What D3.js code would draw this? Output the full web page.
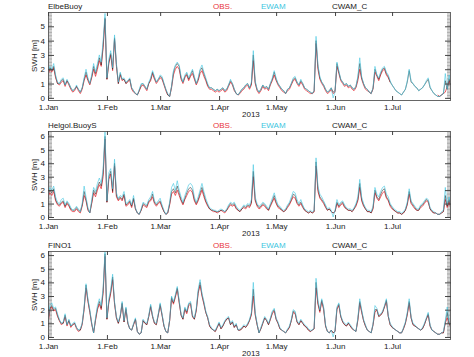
<!DOCTYPE html>
<html><head><meta charset="utf-8">
<script src="https://cdn.jsdelivr.net/npm/d3@7"></script>
<style>body{margin:0;background:#fff}svg{display:block;font-family:"Liberation Sans",Arial,sans-serif}</style>
</head><body><svg id="c" width="474" height="357"></svg>
<script>
const startDate = "2013-01-01";
const endDate = "2013-08-01";
const monthTicks = ["2013-01-01","2013-02-01","2013-03-01","2013-04-01","2013-05-01","2013-06-01","2013-07-01"];
const monthLabels = ["1.Jan","1.Feb","1.Mar","1.Apr","1.May","1.Jun","1.Jul"];
const yearLabel = "2013";
const stations = ["ElbeBuoy","Helgol.BuoyS","FINO1"];
const seriesNames = ["OBS.","EWAM","CWAM_C"];
const yMaxs = [6.0, 6.4, 6.3];
const yTickSets = [[0,1,2,3,4,5],[0,1,2,3,4,5,6],[0,1,2,3,4,5,6]];
const N = null;

// daily values, Jan 1 .. Aug 1 2013
const elbeObs = [1.6,2.0,1.8,2.1,1.4,1.0,0.9,1.1,1.2,0.8, 1.2,0.9,0.6,0.4,0.5,0.8,0.5,0.3,0.6,1.2,
 1.6,1.2,0.9,1.4,2.0,1.5,2.0,2.6,2.2,3.5, 5.5,1.3,2.4,3.0,1.9,4.1,2.2,1.0,1.6,1.2,
 1.3,1.0,1.1,1.3,0.6,0.4,0.3,0.2,0.5,0.8, 0.9,0.7,0.5,1.0,1.2,1.7,1.3,1.0,1.2,1.4,
 1.3,0.9,0.5,0.2,0.1,0.7,1.6,2.0,2.2,2.0, 1.3,1.0,1.4,1.6,1.2,1.5,1.7,1.3,0.9,1.2,
 1.7,1.9,1.5,1.2,0.8,0.6,0.6,0.5,0.4,0.5, 0.4,0.5,0.6,0.4,0.5,0.8,1.1,0.9,0.5,0.3,
 0.2,0.3,0.5,0.6,0.8,0.9,0.6,0.9,2.6,1.0, 0.5,0.3,0.5,0.8,0.6,0.7,0.5,0.9,1.2,1.6,
 1.2,0.9,0.7,0.5,0.4,0.3,0.5,0.6,0.9,1.2, 1.3,1.0,0.8,1.1,0.9,0.6,0.5,0.4,0.3,0.3,
 0.4,3.8,2.0,1.3,1.0,0.8,0.5,0.3,0.4,0.6, 0.3,0.4,2.2,1.7,1.2,1.0,0.8,0.9,0.7,0.8,
 0.6,0.5,0.7,1.2,2.0,1.3,0.9,0.6,0.5,0.4, 0.3,0.6,1.8,1.5,1.2,1.6,1.9,2.0,1.6,1.4,
 1.1,N,N,N,N,N,N,N,N,N, N,N,N,N,N,N,N,N,N,N,
 N,N,N,N,N,0.2,0.1,0.2,0.3,0.4, 0.8,1.2,0.8];
const elbeEwam = [1.8,2.2,2.0,2.4,1.6,1.1,1.0,1.3,1.4,0.9, 1.3,1.0,0.7,0.5,0.6,0.9,0.6,0.4,0.7,1.4,
 2.0,1.4,1.0,1.6,2.4,1.8,2.4,3.0,2.5,4.0, 5.9,1.4,2.7,3.3,2.1,4.4,2.4,1.1,1.8,1.3,
 1.4,1.1,1.2,1.4,0.7,0.5,0.3,0.2,0.6,1.0, 1.0,0.8,0.6,1.1,1.4,1.9,1.5,1.1,1.3,1.6,
 1.5,1.0,0.6,0.3,0.1,0.8,1.9,2.3,2.5,2.3, 1.5,1.1,1.6,1.8,1.4,1.7,2.0,1.5,1.0,1.4,
 2.0,2.3,1.8,1.4,1.0,0.7,0.7,0.6,0.5,0.6, 0.5,0.6,0.7,0.5,0.6,0.9,1.3,1.0,0.6,0.3,
 0.2,0.4,0.6,0.7,0.9,1.0,0.7,1.1,3.3,1.2, 0.6,0.4,0.6,0.9,0.7,0.8,0.6,1.0,1.4,1.9,
 1.4,1.0,0.8,0.6,0.5,0.3,0.6,0.7,1.0,1.4, 1.5,1.1,0.9,1.3,1.0,0.7,0.6,0.5,0.4,0.3,
 0.5,4.3,2.3,1.5,1.1,0.9,0.6,0.4,0.5,0.7, 0.0,0.4,2.5,1.9,1.3,1.1,0.9,1.0,0.8,0.9,
 0.7,0.6,0.8,1.5,2.8,1.5,1.0,0.7,0.6,0.4, 0.3,0.7,2.2,1.6,1.4,1.8,2.1,2.2,1.8,1.6,
 1.2,0.9,0.7,0.5,0.4,0.3,0.2,0.4,0.6,1.2, 2.0,1.2,1.0,0.8,0.7,0.5,0.6,0.7,0.9,1.2,
 1.4,0.8,0.5,0.3,0.2,0.1,0.1,0.2,0.3,1.7, 0.6,1.6,0.9];
const elbeCwam = [1.7,2.1,1.9,2.2,1.5,1.0,1.0,1.2,1.3,0.9, 1.2,1.0,0.7,0.5,0.6,0.8,0.6,0.4,0.7,1.3,
 1.8,1.3,1.0,1.5,2.2,1.7,2.2,2.8,2.3,3.7, 5.6,1.3,2.5,3.1,2.0,4.2,2.3,1.0,1.7,1.3,
 1.3,1.0,1.2,1.3,0.7,0.5,0.3,0.2,0.5,0.9, 1.0,0.8,0.6,1.0,1.3,1.8,1.4,1.1,1.3,1.5,
 1.4,1.0,0.6,0.2,0.1,0.8,1.8,2.2,2.4,2.2, 1.4,1.1,1.5,1.7,1.3,1.6,1.9,1.4,1.0,1.3,
 1.9,2.1,1.7,1.3,0.9,0.7,0.7,0.6,0.5,0.6, 0.5,0.6,0.7,0.5,0.6,0.9,1.2,1.0,0.6,0.3,
 0.2,0.4,0.6,0.7,0.9,1.0,0.7,1.0,3.0,1.1, 0.6,0.4,0.6,0.9,0.7,0.8,0.6,1.0,1.3,1.8,
 1.3,1.0,0.8,0.6,0.5,0.3,0.6,0.7,1.0,1.3, 1.4,1.1,0.9,1.2,1.0,0.7,0.6,0.5,0.4,0.3,
 0.5,4.0,2.2,1.4,1.1,0.9,0.6,0.4,0.5,0.7, 0.4,0.5,2.4,1.8,1.3,1.1,0.9,1.0,0.8,0.9,
 0.7,0.6,0.8,1.4,2.4,1.4,1.0,0.7,0.6,0.4, 0.3,0.7,2.0,1.6,1.3,1.7,2.0,2.1,1.7,1.5,
 1.1,0.9,0.7,0.5,0.4,0.3,0.2,0.4,0.6,1.1, 1.9,1.1,1.0,0.8,0.7,0.5,0.6,0.7,0.9,1.1,
 1.3,0.7,0.5,0.3,0.2,0.1,0.1,0.2,0.3,1.2, 0.6,1.3,0.8];

const helgObs = [1.5,1.8,1.6,1.9,1.2,0.9,0.8,1.0,1.1,0.7, 1.0,0.8,0.5,0.4,0.4,0.6,0.4,0.3,0.8,1.6,
 1.2,0.5,0.3,1.0,1.8,1.5,2.0,2.4,2.1,3.0, 5.8,1.1,2.8,3.2,1.8,3.8,1.5,1.2,1.4,1.2,
 1.6,0.8,0.9,1.1,0.7,1.3,0.6,0.3,0.2,0.5, 0.9,0.8,0.7,1.1,1.2,1.5,1.0,0.8,1.0,1.1,
 0.7,0.4,0.2,0.3,0.9,1.7,1.9,1.6,2.0,1.6, 1.2,0.9,1.3,1.6,1.9,2.0,1.8,1.2,0.9,1.2,
 1.6,2.0,1.5,1.1,0.8,0.6,0.5,0.4,0.4,0.3, 0.4,0.5,0.4,0.3,0.5,0.7,0.9,0.8,0.9,0.6,
 0.5,0.4,0.6,0.7,0.6,0.8,0.7,1.0,3.0,1.2, 0.8,0.6,0.7,0.9,0.8,0.6,0.5,0.8,1.1,1.4,
 1.0,0.7,0.6,0.5,0.4,0.5,0.7,0.9,1.2,1.5, 1.4,1.0,0.8,1.0,0.7,0.5,0.4,0.3,0.4,0.3,
 0.4,3.8,1.9,1.4,1.2,1.0,0.7,0.5,0.6,0.4, 0.3,0.4,1.0,0.7,0.9,1.0,0.7,0.6,0.5,0.5,
 0.4,0.6,0.8,1.2,2.2,1.2,0.8,0.6,0.4,0.4, 0.3,0.6,1.8,1.4,1.2,1.5,1.8,1.9,1.4,1.2,
 0.8,0.6,0.5,0.4,0.3,0.3,0.2,0.3,0.5,0.9, 1.7,1.0,0.8,0.6,0.5,0.5,0.7,0.8,1.0,1.2,
 1.1,0.6,0.4,0.3,0.3,0.2,0.2,0.3,0.4,1.3, 0.7,1.1,0.6];
const helgEwam = [1.8,2.2,2.0,2.3,1.5,1.1,1.0,1.3,1.4,0.9, 1.2,1.0,0.7,0.5,0.6,0.8,0.6,0.4,1.0,2.3,
 1.5,0.7,0.3,1.3,2.2,1.9,2.5,2.9,2.5,3.6, 6.4,1.2,3.3,3.6,2.1,4.3,1.8,1.4,1.6,1.5,
 1.9,1.0,1.1,1.3,0.9,1.6,0.7,0.3,0.2,0.6, 1.1,1.0,0.9,1.3,1.5,1.9,1.2,1.0,1.2,1.4,
 0.9,0.5,0.2,0.4,1.1,2.2,2.5,2.0,2.7,2.0, 1.5,1.1,1.6,2.0,2.4,2.5,2.3,1.5,1.1,1.5,
 2.0,2.5,1.9,1.4,1.0,0.7,0.6,0.5,0.5,0.4, 0.5,0.6,0.5,0.4,0.6,0.9,1.1,1.0,1.1,0.8,
 0.6,0.5,0.7,0.9,0.8,1.0,0.9,1.3,3.9,1.5, 1.0,0.8,0.9,1.1,1.0,0.8,0.6,1.0,1.4,1.8,
 1.3,0.9,0.8,0.6,0.5,0.6,0.9,1.1,1.5,1.9, 1.8,1.3,1.0,1.3,0.9,0.6,0.5,0.4,0.5,0.4,
 0.5,4.4,2.3,1.7,1.5,1.2,0.9,0.6,0.7,0.5, 0.0,0.5,1.3,0.9,1.1,1.2,0.9,0.7,0.6,0.6,
 0.5,0.7,1.0,1.5,2.8,1.5,1.0,0.7,0.5,0.5, 0.4,0.8,2.2,1.7,1.5,1.9,2.2,2.3,1.7,1.5,
 1.0,0.8,0.6,0.5,0.4,0.4,0.3,0.4,0.6,1.1, 2.1,1.2,1.0,0.8,0.6,0.6,0.9,1.0,1.2,1.4,
 1.3,0.7,0.5,0.4,0.3,0.2,0.2,0.4,0.5,2.2, 0.9,1.5,0.8];
const helgCwam = [1.6,2.0,1.8,2.1,1.3,1.0,0.9,1.1,1.2,0.8, 1.1,0.9,0.6,0.5,0.5,0.7,0.5,0.4,0.9,1.9,
 1.3,0.6,0.3,1.1,2.0,1.7,2.2,2.6,2.3,3.3, 6.0,1.1,3.0,3.4,1.9,4.0,1.6,1.3,1.5,1.3,
 1.7,0.9,1.0,1.2,0.8,1.4,0.6,0.3,0.2,0.5, 1.0,0.9,0.8,1.2,1.3,1.7,1.1,0.9,1.1,1.2,
 0.8,0.4,0.2,0.3,1.0,1.9,2.1,1.8,2.3,1.8, 1.3,1.0,1.4,1.8,2.1,2.2,2.0,1.3,1.0,1.3,
 1.8,2.2,1.7,1.2,0.9,0.6,0.5,0.5,0.4,0.4, 0.4,0.5,0.5,0.4,0.5,0.8,1.0,0.9,1.0,0.7,
 0.5,0.4,0.6,0.8,0.7,0.9,0.8,1.1,3.4,1.3, 0.9,0.7,0.8,1.0,0.9,0.7,0.5,0.9,1.2,1.6,
 1.1,0.8,0.7,0.5,0.4,0.5,0.8,1.0,1.3,1.7, 1.6,1.1,0.9,1.1,0.8,0.5,0.4,0.3,0.4,0.3,
 0.4,4.1,2.1,1.5,1.3,1.1,0.8,0.5,0.6,0.4, 0.3,0.4,1.1,0.8,1.0,1.1,0.8,0.6,0.5,0.5,
 0.4,0.6,0.9,1.3,2.5,1.3,0.9,0.6,0.4,0.4, 0.3,0.7,2.0,1.5,1.3,1.7,2.0,2.1,1.5,1.3,
 0.9,0.7,0.5,0.4,0.3,0.3,0.2,0.3,0.5,1.0, 1.9,1.1,0.9,0.7,0.5,0.5,0.8,0.9,1.1,1.3,
 1.2,0.6,0.4,0.3,0.3,0.2,0.2,0.3,0.4,1.6, 0.8,1.3,0.7];

const finoObs = [1.0,2.0,2.2,1.9,2.0,1.5,1.2,0.9,1.0,1.5, 0.8,1.2,0.7,0.9,1.0,0.6,0.4,0.5,0.9,2.0,
 3.6,2.6,1.8,0.9,0.3,1.2,2.0,2.4,2.0,3.2, 5.9,1.3,2.5,3.2,4.2,2.4,1.4,1.0,1.5,2.4,
 1.1,2.0,1.0,0.6,0.5,0.9,1.3,0.4,0.2,0.3, 1.2,1.0,0.9,1.5,2.2,1.5,1.0,0.9,1.6,2.3,
 1.6,0.8,0.4,0.3,1.2,2.8,2.4,2.9,3.5,2.5, 1.6,1.3,2.0,1.7,2.3,2.4,1.5,1.3,1.9,3.2,
 3.8,3.0,2.4,1.8,1.4,0.8,0.6,0.5,0.4,0.7, 1.0,0.6,0.8,1.1,1.3,1.4,0.9,1.1,0.7,0.9,
 0.5,0.5,0.6,0.8,0.7,0.9,1.2,1.6,3.0,1.6, 0.9,0.3,0.6,1.0,1.4,1.2,0.9,1.3,1.7,1.9,
 1.3,1.0,0.6,0.5,0.4,0.3,0.5,0.7,1.2,1.8, 1.7,1.1,0.9,1.2,1.0,0.8,0.7,0.5,0.4,0.5,
 0.6,3.6,2.4,1.8,2.6,2.0,0.8,0.4,0.3,0.5, 0.3,0.4,2.0,2.3,1.5,1.1,0.9,0.8,1.0,0.8,
 0.6,0.5,0.4,1.2,2.5,1.8,1.2,0.8,0.5,0.4, 0.3,0.9,1.8,2.0,1.5,1.6,1.8,2.2,2.6,1.5,
 0.9,0.7,0.6,0.5,0.4,0.3,0.3,0.6,1.0,1.6, 2.5,1.4,0.9,0.8,0.7,0.6,0.5,0.6,0.9,1.3,
 1.6,0.8,0.5,0.4,0.3,0.2,0.2,0.3,0.3,1.0, 1.4,1.0,0.7];
const finoEwam = [1.2,2.3,2.5,2.1,2.2,1.7,1.3,1.0,1.1,1.7, 0.9,1.3,0.8,1.0,1.1,0.7,0.5,0.6,1.0,2.2,
 3.9,2.8,2.0,1.0,0.3,1.4,2.3,2.8,2.3,3.6, 6.3,1.4,2.8,3.5,4.6,2.6,1.5,1.1,1.6,2.6,
 1.2,2.2,1.1,0.6,0.5,1.0,1.4,0.4,0.2,0.3, 1.3,1.1,1.0,1.6,2.4,1.6,1.1,1.0,1.7,2.5,
 1.7,0.9,0.4,0.3,1.3,3.0,2.6,3.1,3.7,2.7, 1.7,1.4,2.2,1.9,2.5,2.6,1.6,1.4,2.1,3.5,
 4.2,3.2,2.6,1.9,1.5,0.9,0.7,0.5,0.5,0.8, 1.1,0.7,0.9,1.2,1.4,1.5,1.0,1.2,0.8,1.0,
 0.5,0.6,0.7,0.9,0.8,1.0,1.3,1.8,4.0,1.8, 1.0,0.3,0.7,1.1,1.5,1.3,1.0,1.4,1.9,2.1,
 1.4,1.1,0.7,0.5,0.4,0.3,0.6,0.8,1.3,2.0, 1.9,1.2,1.0,1.3,1.1,0.9,0.8,0.6,0.5,0.5,
 0.7,4.3,2.7,2.0,2.8,2.2,0.9,0.4,0.3,0.5, 0.0,0.5,2.2,2.5,1.6,1.2,1.0,0.9,1.1,0.9,
 0.7,0.5,0.4,1.4,2.8,2.0,1.3,0.9,0.5,0.4, 0.3,1.0,2.3,2.1,1.6,1.7,1.9,2.3,2.8,1.6,
 1.0,0.8,0.6,0.5,0.4,0.3,0.3,0.7,1.1,1.8, 2.8,1.5,1.0,0.9,0.7,0.6,0.5,0.7,1.0,1.4,
 1.8,0.9,0.5,0.4,0.3,0.2,0.2,0.3,0.4,1.2, 2.2,1.1,0.8];
const finoCwam = [1.1,2.1,2.3,2.0,2.1,1.6,1.2,1.0,1.0,1.6, 0.9,1.2,0.8,0.9,1.0,0.7,0.5,0.5,1.0,2.1,
 3.8,2.7,1.9,1.0,0.3,1.3,2.1,2.6,2.1,3.4, 6.1,1.3,2.6,3.3,4.4,2.5,1.4,1.0,1.5,2.5,
 1.1,2.1,1.0,0.6,0.5,0.9,1.3,0.4,0.2,0.3, 1.2,1.0,0.9,1.5,2.3,1.5,1.0,0.9,1.6,2.4,
 1.6,0.8,0.4,0.3,1.2,2.9,2.5,3.0,3.6,2.6, 1.6,1.3,2.1,1.8,2.4,2.5,1.5,1.3,2.0,3.3,
 4.0,3.1,2.5,1.8,1.4,0.8,0.6,0.5,0.4,0.7, 1.0,0.6,0.8,1.1,1.3,1.4,0.9,1.1,0.7,0.9,
 0.5,0.5,0.6,0.8,0.7,0.9,1.2,1.7,3.5,1.7, 0.9,0.3,0.6,1.0,1.4,1.2,0.9,1.3,1.8,2.0,
 1.3,1.0,0.6,0.5,0.4,0.3,0.5,0.7,1.2,1.9, 1.8,1.1,0.9,1.2,1.0,0.8,0.7,0.5,0.4,0.5,
 0.6,4.0,2.5,1.9,2.7,2.1,0.8,0.4,0.3,0.5, 0.3,0.4,2.1,2.4,1.5,1.1,0.9,0.8,1.0,0.8,
 0.6,0.5,0.4,1.3,2.6,1.9,1.2,0.8,0.5,0.4, 0.3,0.9,2.0,2.0,1.5,1.6,1.8,2.2,2.7,1.5,
 0.9,0.7,0.6,0.5,0.4,0.3,0.3,0.6,1.0,1.7, 2.6,1.4,0.9,0.8,0.7,0.6,0.5,0.6,0.9,1.3,
 1.7,0.8,0.5,0.4,0.3,0.2,0.2,0.3,0.3,1.1, 1.8,1.0,0.7];

const panelSeries = [[elbeObs, elbeEwam, elbeCwam],[helgObs, helgEwam, helgCwam],[finoObs, finoEwam, finoCwam]];
const colors = ["#e8333c","#3ec6e0","#1a1a1a"];
const drawOrder = [0, 2, 1];
const widths = [0.8, 0.7, 0.6];
const opac = [1, 0.85, 0.85];

const svg = d3.select("#c");
const parse = d3.utcParse("%Y-%m-%d");
const x = d3.scaleUtc().domain([parse(startDate), parse(endDate)]).range([48, 451]);
const panelTops = [12, 131, 251];
const ph = 88;
const fs = 8;

panelTops.forEach((top, p) => {
  const y = d3.scaleLinear().domain([-0.15, yMaxs[p]]).range([top + ph, top]);
  const g = svg.append("g");
  const cid = "clip" + p;
  svg.append("clipPath").attr("id", cid).append("rect")
    .attr("x", 48).attr("y", top).attr("width", 403).attr("height", ph);

  const minor = d3.range(0, Math.floor(yMaxs[p] * 10) + 1).map(v => v / 10);
  g.selectAll(".ml").data(minor).join("line")
    .attr("x1", 48).attr("x2", 52).attr("y1", d => y(d) + 0.5).attr("y2", d => y(d) + 0.5)
    .attr("stroke", "#999").attr("stroke-width", 0.8);
  g.selectAll(".mr").data(minor).join("line")
    .attr("x1", 447).attr("x2", 451).attr("y1", d => y(d) + 0.5).attr("y2", d => y(d) + 0.5)
    .attr("stroke", "#999").attr("stroke-width", 0.8);

  const sets = panelSeries[p];
  drawOrder.forEach(s => {
    const vals = sets[s];
    const data = vals.map((v, i) => ({d: d3.utcDay.offset(parse(startDate), i), v}));
    const line = d3.line().defined(d => d.v != null).x(d => x(d.d)).y(d => y(d.v));
    g.append("path").datum(data).attr("clip-path", `url(#${cid})`)
      .attr("fill", "none").attr("stroke", colors[s]).attr("stroke-width", widths[s])
      .attr("stroke-opacity", opac[s])
      .attr("stroke-linejoin", "round").attr("d", line);
  });

  g.append("rect").attr("x", 48.5).attr("y", top + 0.5).attr("width", 402).attr("height", ph)
    .attr("fill", "none").attr("stroke", "#666").attr("stroke-width", 1);

  const yl = d3.axisLeft(y).tickValues(yTickSets[p]).tickSize(-6).tickPadding(3).tickFormat(d3.format("d"));
  const ya = g.append("g").attr("transform", "translate(48,0)").call(yl);
  ya.select(".domain").remove();
  ya.selectAll("line").attr("stroke", "#444");
  ya.selectAll("text").attr("font-size", fs).attr("fill", "#222").attr("x", -3);
  const yr = d3.axisRight(y).tickValues(yTickSets[p]).tickSize(-6).tickFormat("");
  const yra = g.append("g").attr("transform", "translate(451,0)").call(yr);
  yra.select(".domain").remove();
  yra.selectAll("line").attr("stroke", "#444");

  const xb = d3.axisBottom(x).tickValues(monthTicks.map(parse)).tickSize(-4).tickPadding(4)
    .tickFormat((d, i) => monthLabels[i]);
  const xa = g.append("g").attr("transform", `translate(0,${top + ph})`).call(xb);
  xa.select(".domain").remove();
  xa.selectAll("line").attr("stroke", "#444");
  xa.selectAll("text").attr("font-size", fs).attr("fill", "#222");
  const xt = d3.axisTop(x).tickValues(monthTicks.map(parse)).tickSize(-4).tickFormat("");
  const xta = g.append("g").attr("transform", `translate(0,${top})`).call(xt);
  xta.select(".domain").remove();
  xta.selectAll("line").attr("stroke", "#444");

  g.append("text").attr("x", 242).attr("y", top + ph + 17).attr("font-size", fs)
    .attr("fill", "#222").text(yearLabel);

  g.append("text").attr("x", 48).attr("y", top - 3).attr("font-size", fs).attr("fill", "#222").text(stations[p]);
  const lx = [213, 261, 332];
  seriesNames.forEach((n, s) => {
    g.append("text").attr("x", lx[s]).attr("y", top - 3).attr("font-size", fs)
      .attr("fill", colors[s]).text(n);
  });

  g.append("text").attr("transform", `translate(37,${top + ph / 2}) rotate(-90)`)
    .attr("text-anchor", "middle").attr("font-size", fs).attr("fill", "#222").text("SWH [m]");
});
</script></body></html>
